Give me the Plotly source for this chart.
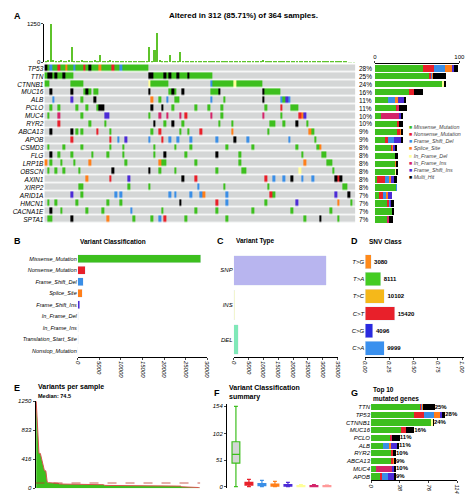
import plotly.graph_objects as go

W, H = 474, 499
FONT = "Liberation Sans"

genes = ["TP53","TTN","CTNNB1","MUC16","ALB","PCLO","MUC4","RYR2","ABCA13","APOB",
         "CSMD3","FLG","LRP1B","OBSCN","AXIN1","XIRP2","ARID1A","HMCN1","CACNA1E","SPTA1"]
pct = [28,25,24,16,11,11,10,10,9,9,8,8,8,8,8,8,7,7,7,7]
types = ["Missense_Mutation","Nonsense_Mutation","Frame_Shift_Del","Splice_Site",
         "In_Frame_Del","In_Frame_Ins","Frame_Shift_Ins","Multi_Hit"]
codes = ["M","N","F","S","D","I","R","H"]
type_colors = ["#3dbf1e","#e8202a","#3a8ee6","#ff7f1a","#ffff99","#d4246a","#4c2bd6","#000000"]
grey = "#d4d6d6"
ncol = 120

segments = {
 "TP53": [(0,"HMFMMNMMSMMFMMMNMHMMMSMMMMNMMFMMMMMMMMMM")],
 "TTN": [(0,"MHHMHMMHMMM"),(40,"HHMMMMHMHMMHMMMHMMMMMMMMM")],
 "CTNNB1": [(0,"MM"),(10,"MMMMM"),(40,"DMMMMMMM"),(64,"FMMMMMMMMDMMMMMMMMMM")],
 "MUC16": [(2,"H"),(10,"H"),(15,"MHM"),(19,"MM"),(40,"H"),(48,"MHM"),(53,"H"),(64,"MMMH"),(84,"HMMMMMM")],
 "ALB": [(3,"F"),(10,"R"),(14,"M"),(19,"H"),(41,"S"),(44,"M"),(47,"F"),(50,"MM"),(64,"F"),(69,"M"),(84,"H"),(91,"FMRF")],
 "PCLO": [(2,"M"),(5,"M"),(12,"M"),(16,"M"),(20,"MHH"),(41,"H"),(45,"H"),(49,"M"),(58,"M"),(63,"M"),(68,"M"),(85,"M"),(91,"N"),(95,"MMM")],
 "MUC4": [(1,"M"),(5,"I"),(14,"M"),(23,"RR"),(40,"M"),(44,"I"),(47,"I"),(52,"I"),(54,"N"),(64,"I"),(68,"M"),(84,"I"),(91,"M"),(98,"NSR")],
 "RYR2": [(5,"N"),(17,"M"),(23,"M"),(42,"H"),(46,"M"),(49,"H"),(53,"M"),(67,"M"),(72,"M"),(87,"MM"),(92,"M"),(97,"H"),(101,"M")],
 "ABCA13": [(2,"H"),(10,"H"),(12,"M"),(14,"M"),(20,"N"),(25,"M"),(41,"M"),(44,"N"),(52,"M"),(55,"M"),(60,"N"),(72,"S"),(86,"M"),(102,"SM")],
 "APOB": [(10,"N"),(25,"N"),(28,"F"),(31,"R"),(40,"F"),(45,"N"),(48,"F"),(51,"F"),(56,"F"),(66,"F"),(73,"H"),(78,"F"),(94,"F"),(104,"M")],
 "CSMD3": [(1,"M"),(7,"M"),(14,"M"),(25,"M"),(30,"M"),(42,"M"),(50,"M"),(56,"M"),(70,"M"),(80,"M"),(97,"M"),(105,"MS")],
 "FLG": [(2,"H"),(5,"M"),(10,"M"),(18,"M"),(24,"M"),(30,"M"),(42,"M"),(46,"H"),(54,"M"),(66,"H"),(75,"M"),(99,"M"),(107,"MM")],
 "LRP1B": [(0,"S"),(2,"M"),(6,"M"),(11,"M"),(17,"S"),(31,"M"),(44,"S"),(45,"MM"),(58,"M"),(75,"M"),(100,"S"),(109,"MM")],
 "OBSCN": [(1,"M"),(4,"M"),(7,"M"),(13,"M"),(26,"H"),(40,"H"),(44,"M"),(50,"M"),(66,"M"),(76,"MM"),(98,"D"),(111,"M")],
 "AXIN1": [(16,"S"),(25,"N"),(32,"R"),(53,"H"),(58,"N"),(85,"N"),(88,"F"),(92,"F"),(95,"H"),(99,"F"),(103,"F"),(112,"HNH")],
 "XIRP2": [(13,"MM"),(32,"M"),(40,"M"),(59,"F"),(69,"M"),(86,"M"),(115,"MM")],
 "ARID1A": [(10,"R"),(14,"M"),(27,"F"),(29,"F"),(48,"F"),(50,"F"),(56,"F"),(60,"F"),(61,"S"),(70,"F"),(87,"N"),(88,"M"),(112,"R"),(117,"H")],
 "HMCN1": [(1,"M"),(4,"M"),(12,"M"),(24,"M"),(29,"M"),(52,"H"),(66,"N"),(70,"F"),(85,"M"),(97,"R"),(113,"S"),(118,"M")],
 "CACNA1E": [(2,"H"),(6,"M"),(16,"M"),(22,"M"),(33,"F"),(45,"M"),(58,"M"),(66,"M"),(80,"M"),(95,"M"),(110,"M")],
 "SPTA1": [(1,"MM"),(10,"H"),(24,"S"),(34,"M"),(41,"M"),(44,"F"),(46,"N"),(54,"M"),(70,"M"),(100,"M"),(106,"H"),(113,"M")],
}

tmb = [60,80,1250,70,60,50,90,60,40,70,500,60,50,40,80,60,50,40,50,70,40,250,60,50,40,70,60,50,40,60,50,40,60,50,40,50,40,60,50,40,
       500,60,400,950,80,60,50,40,250,60,50,40,350,60,40,50,40,30,50,40,
       40,30,50,40,30,40,50,30,40,30, 40,30,40,30,40,30,50,30,40,30,
       40,30,40,60,80,60,40,30,40,30, 30,40,30,20,30,40,30,20,30,20,
       30,20,30,20,30,40,20,30,20,30, 20,30,20,30,20,30,20,15,10,5]

gene_counts = {
 "TP53":[57,13,13,8,0,0,3,4], "TTN":[64,3,1,1,0,0,0,15], "CTNNB1":[80,0,0,0,2,0,0,1],
 "MUC16":[40,6,0,0,0,0,0,11], "ALB":[16,0,8,3,0,0,7,3], "PCLO":[26,1,0,0,0,1,0,10],
 "MUC4":[7,0,0,0,0,22,2,2], "RYR2":[27,2,0,0,0,0,0,4], "ABCA13":[26,4,0,1,0,0,0,2],
 "APOB":[12,3,8,0,0,0,8,2], "CSMD3":[19,2,0,1,0,0,2,2], "FLG":[24,0,0,0,0,0,0,3],
 "LRP1B":[24,0,0,2,0,0,0,1], "OBSCN":[24,0,0,0,1,0,0,2], "AXIN1":[3,9,5,2,0,0,4,3],
 "XIRP2":[25,0,1,0,0,0,0,0], "ARID1A":[5,4,5,1,0,0,5,0], "HMCN1":[15,2,1,0,0,0,2,2],
 "CACNA1E":[21,0,0,0,0,0,0,2], "SPTA1":[15,0,0,0,0,2,0,4],
}

vc_classes = ["Missense_Mutation","Nonsense_Mutation","Frame_Shift_Del","Splice_Site","Frame_Shift_Ins",
              "In_Frame_Del","In_Frame_Ins","Translation_Start_Site","Nonstop_Mutation"]
vc_counts = [28500,1800,1300,1000,500,150,100,80,30]
vc_colors = ["#3dbf1e","#e8202a","#3a8ee6","#ff7f1a","#4c2bd6","#ffff99","#d4246a","#ff9999","#cccccc"]

vt_types = ["SNP","INS","DEL"]
vt_counts = [31100,300,1500]
vt_colors = ["#b8b5ef","#ffffa8","#80e8b8"]

snv_classes = ["T>G","T>A","T>C","C>T","C>G","C>A"]
snv_counts = [3080,8111,10102,15420,4096,9999]
snv_colors = ["#ff8a1a","#44cc22","#f5b81a","#e8202a","#2a2ae0","#3a90ee"]

MEDIAN = 74.5
box_classes = ["Missense_Mutation","Nonsense_Mutation","Frame_Shift_Del","Splice_Site","Frame_Shift_Ins",
               "In_Frame_Del","In_Frame_Ins","Translation_Start_Site"]
box_q1 = [45,3,2,1,1,0,0,0]
box_med = [62,5,4,3,2,1,1,1]
box_q3 = [86,8,6,5,4,2,2,2]
box_lo = [0,0,0,0,0,0,0,0]
box_hi = [154,14,12,10,8,4,4,3]

top10 = ["TTN","TP53","CTNNB1","MUC16","PCLO","ALB","RYR2","ABCA13","MUC4","APOB"]
top10_pct = [25,28,24,16,11,11,10,9,10,9]

def dx(a, b): return [a / W, b / W]
def dy(t, b): return [1 - b / H, 1 - t / H]

fig = go.Figure()
tick = dict(family=FONT, size=6, color="black")

fig.add_trace(go.Bar(x=list(range(ncol)), y=tmb, marker_color="#5ec32b", marker_line_width=0,
                     xaxis="x", yaxis="y", showlegend=False))

code_idx = {c: i + 1 for i, c in enumerate(codes)}
z = []
for g in genes:
    row = [0] * ncol
    for start, pat in segments[g]:
        for k, ch in enumerate(pat):
            if start + k < ncol:
                row[start + k] = code_idx[ch]
    z.append(row)
cols = [grey] + type_colors
cs = []
for i, c in enumerate(cols):
    cs.append([i / len(cols), c]); cs.append([(i + 1) / len(cols), c])
fig.add_trace(go.Heatmap(z=z, x=list(range(ncol)), y=genes, colorscale=cs, zmin=-0.5, zmax=8.5,
                         showscale=False, ygap=1.5, xaxis="x2", yaxis="y2"))

for ti, t in enumerate(types):
    fig.add_trace(go.Bar(y=genes, x=[gene_counts[g][ti] for g in genes], orientation="h",
                         marker_color=type_colors[ti], marker_line_width=0, width=0.8,
                         xaxis="x3", yaxis="y3", showlegend=False))

fig.add_trace(go.Bar(y=vc_classes, x=vc_counts, orientation="h", marker_color=vc_colors, width=0.7,
                     xaxis="x4", yaxis="y4", showlegend=False))
fig.add_trace(go.Bar(y=vt_types, x=vt_counts, orientation="h", marker_color=vt_colors, width=0.85,
                     xaxis="x5", yaxis="y5", showlegend=False))
tot = sum(snv_counts)
fig.add_trace(go.Bar(y=snv_classes, x=[c / tot for c in snv_counts], orientation="h", marker_color=snv_colors,
                     width=0.8, text=["<b>%d</b>" % c for c in snv_counts], textposition="outside",
                     textfont=dict(family=FONT, size=6, color="black"), cliponaxis=False,
                     xaxis="x6", yaxis="y6", showlegend=False))
srt = sorted(tmb, reverse=True)
fig.add_trace(go.Scatter(x=list(range(len(srt))), y=srt, mode="lines", fill="tozeroy",
                         fillcolor="#3dbf1e", line=dict(color="#d9534f", width=1),
                         xaxis="x7", yaxis="y7", showlegend=False))
for i, c in enumerate(box_classes):
    col = vc_colors[i]
    fig.add_trace(go.Box(x=[i], q1=[box_q1[i]], median=[box_med[i]], q3=[box_q3[i]],
                         lowerfence=[box_lo[i]], upperfence=[box_hi[i]],
                         fillcolor=grey if i == 0 else col, line=dict(color=col, width=1.2),
                         width=0.6, xaxis="x8", yaxis="y8", showlegend=False))
for ti, t in enumerate(types):
    fig.add_trace(go.Bar(y=top10, x=[gene_counts[g][ti] for g in top10], orientation="h",
                         marker_color=type_colors[ti], marker_line_width=0, width=0.8,
                         xaxis="x9", yaxis="y9", showlegend=False))
fig.add_trace(go.Scatter(y=top10, x=[sum(gene_counts[g]) for g in top10], mode="text",
                         text=["<b>%d%%</b>" % p for p in top10_pct], textposition="middle right",
                         textfont=dict(family=FONT, size=6, color="black"), cliponaxis=False,
                         xaxis="x9", yaxis="y9", showlegend=False))

ax_line = dict(showline=True, linecolor="black", linewidth=0.8, ticks="outside", ticklen=2,
               tickfont=tick, showgrid=False, zeroline=False)
it = lambda arr: ["<i>%s</i>" % a for a in arr]

fig.update_layout(
    width=W, height=H, margin=dict(l=0, r=0, t=0, b=0), plot_bgcolor="white", paper_bgcolor="white",
    barmode="stack", bargap=0.2, font=dict(family=FONT, size=7, color="black"),
    xaxis=dict(domain=dx(34, 351), anchor="y", range=[-0.5, ncol - 0.5], visible=False),
    yaxis=dict(domain=dy(13, 52), anchor="x", range=[0, 1250], tickvals=[0, 1250], **ax_line),
    xaxis2=dict(domain=dx(34, 351), anchor="y2", range=[-0.5, ncol - 0.5], visible=False),
    yaxis2=dict(domain=dy(54, 215), anchor="x2", autorange="reversed", tickvals=genes, ticktext=it(genes),
                tickfont=dict(family=FONT, size=6.5), ticks="", showgrid=False),
    xaxis3=dict(domain=dx(371, 457), anchor="y3", side="top", range=[0, 100], tickvals=[0, 100], **ax_line),
    yaxis3=dict(domain=dy(54, 215), anchor="x3", autorange="reversed", visible=False),
    xaxis4=dict(domain=dx(68, 200), anchor="y4", range=[0, 30000], tickvals=list(range(0, 30001, 5000)),
                ticktext=it([str(v) for v in range(0, 30001, 5000)]), tickangle=90, **ax_line),
    yaxis4=dict(domain=dy(245, 350), anchor="x4", autorange="reversed", tickvals=vc_classes,
                ticktext=it(vc_classes), tickfont=dict(family=FONT, size=5.5), showline=False, ticks=""),
    xaxis5=dict(domain=dx(227, 333), anchor="y5", range=[0, 35000], tickvals=list(range(0, 35001, 5000)),
                ticktext=it([str(v) for v in range(0, 35001, 5000)]), tickangle=90, **ax_line),
    yaxis5=dict(domain=dy(245, 350), anchor="x5", autorange="reversed", tickvals=vt_types,
                ticktext=it(vt_types), tickfont=dict(family=FONT, size=6), showline=False, ticks=""),
    xaxis6=dict(domain=dx(361, 462), anchor="y6", range=[0, 1.02], tickvals=[0, .25, .5, .75, 1],
                ticktext=it(["0.00", "0.25", "0.50", "0.75", "1.00"]), tickangle=90, **ax_line),
    yaxis6=dict(domain=dy(245, 350), anchor="x6", autorange="reversed", tickvals=snv_classes,
                ticktext=it(snv_classes), tickfont=dict(family=FONT, size=6), showline=False, ticks=""),
    xaxis7=dict(domain=dx(25, 193), anchor="y7", range=[-0.5, len(tmb) - 0.5], visible=False),
    yaxis7=dict(domain=dy(395, 483), anchor="x7", range=[0, 1250], tickvals=[0, 416, 833, 1250],
                ticktext=it(["0", "416", "833", "1250"]), **ax_line),
    xaxis8=dict(domain=dx(220, 330), anchor="y8", range=[-0.7, 7.6], visible=False),
    yaxis8=dict(domain=dy(398, 483), anchor="x8", range=[-3, 158], tickvals=[0, 51, 102, 154],
                ticktext=it(["0", "51", "102", "154"]), **ax_line),
    xaxis9=dict(domain=dx(367, 455), anchor="y9", range=[0, 114], tickvals=[0, 38, 76, 114],
                ticktext=it(["0", "38", "76", "114"]), tickangle=90, **ax_line),
    yaxis9=dict(domain=dy(397, 475), anchor="x9", autorange="reversed", tickvals=top10, ticktext=it(top10),
                tickfont=dict(family=FONT, size=6), showline=False, ticks=""),
)

fig.add_shape(type="line", xref="x7", yref="y7", x0=-0.5, x1=len(tmb) - 0.5, y0=MEDIAN, y1=MEDIAN,
              line=dict(color="#c0392b", width=0.8, dash="dash"))

ann = []
def A(x, y, text, size=7, bold=False, xanchor="left", yanchor="middle"):
    ann.append(dict(x=x / W, y=1 - y / H, xref="paper", yref="paper", showarrow=False,
                    text="<b>%s</b>" % text if bold else text, xanchor=xanchor, yanchor=yanchor,
                    font=dict(family=FONT, size=size, color="black")))

A(237, 5, "Altered in 312 (85.71%) of 364 samples.", 8, True, "center")
for i, (g, p) in enumerate(zip(genes, pct)):
    A(353, 54 + (i + 0.5) * (161 / len(genes)), "%d%%" % p, 6.5)
for i, t in enumerate(types):
    ann.append(dict(x=404 / W, y=1 - (112 + i * 7.3) / H, xref="paper", yref="paper", showarrow=False,
                    xanchor="left", text="<span style='color:%s'>■</span> <i>%s</i>" % (type_colors[i], t),
                    font=dict(family=FONT, size=5.3, color="#444444")))
for lab, x, y in [("A", 1, 5), ("B", 1, 233), ("C", 208, 233), ("D", 345, 233), ("E", 1, 382), ("F", 205, 387),
                  ("G", 345, 387)]:
    A(x, y, lab, 9, True)
A(68, 233, "Variant Classification", 6.5, True)
A(227, 233, "Variant Type", 6.5, True)
A(363, 233, "SNV Class", 6.5, True)
A(25, 381, "Variants per sample", 7, True)
A(25, 390, "Median: 74.5", 5.5, True)
A(220, 381, "Variant Classification", 7, True)
A(220, 391, "summary", 7, True)
A(367, 384, "Top 10", 6.5, True)
A(367, 393, "mutated genes", 6.5, True)
fig.update_layout(annotations=ann)

fig.write_html("out.html")
